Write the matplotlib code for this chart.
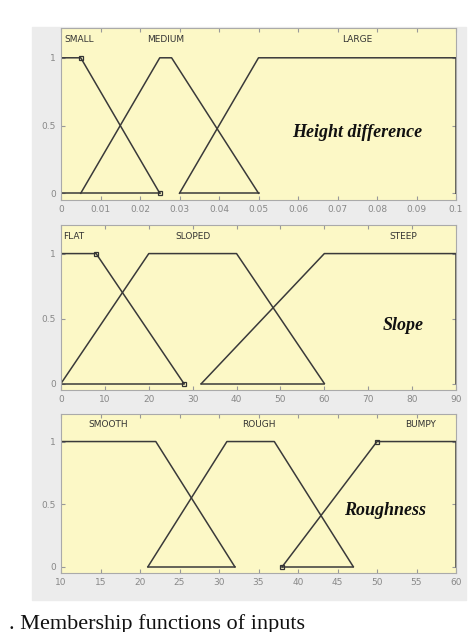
import matplotlib.pyplot as plt
import matplotlib.patches as mpatches

# membership function parameters (trapezoids a, b, c, d)
hd_names = ['SMALL', 'MEDIUM', 'LARGE']
hd_params = [[0, 0, 0.005, 0.025], [0.005, 0.025, 0.028, 0.05], [0.03, 0.05, 0.1, 0.1]]
hd_base = [[0, 0.025], [0.03, 0.05]]
hd_label_x = [0.0045, 0.0265, 0.075]
hd_marks = [[0.005, 1], [0.025, 0]]
hd_ticks = [0, 0.01, 0.02, 0.03, 0.04, 0.05, 0.06, 0.07, 0.08, 0.09, 0.1]

sl_names = ['FLAT', 'SLOPED', 'STEEP']
sl_params = [[0, 0, 8, 28], [0, 20, 40, 60], [32, 60, 90, 90]]
sl_base = [[0, 28], [32, 60]]
sl_label_x = [3, 30, 78]
sl_marks = [[8, 1], [28, 0]]
sl_ticks = [0, 10, 20, 30, 40, 50, 60, 70, 80, 90]

ro_names = ['SMOOTH', 'ROUGH', 'BUMPY']
ro_params = [[10, 10, 22, 32], [21, 31, 37, 47], [38, 50, 60, 60]]
ro_base = [[21, 32], [38, 47]]
ro_label_x = [16, 35, 55.5]
ro_marks = [[38, 0], [50, 1]]
ro_ticks = [10, 15, 20, 25, 30, 35, 40, 45, 50, 55, 60]

fig = plt.figure(figsize=(4.74, 6.32), dpi=100)
fig.patch.set_facecolor('white')
fig.add_artist(mpatches.Rectangle((32 / 474, 1 - 600 / 632), 434 / 474, 573 / 632,
                                  transform=fig.transFigure, color='#ececec', zorder=0))

panels = [
    (hd_names, hd_params, hd_base, hd_label_x, hd_marks, hd_ticks, 'Height difference', 0.075, [28, 200]),
    (sl_names, sl_params, sl_base, sl_label_x, sl_marks, sl_ticks, 'Slope', 78, [225, 390]),
    (ro_names, ro_params, ro_base, ro_label_x, ro_marks, ro_ticks, 'Roughness', 51, [414, 573]),
]

for names, params, base, lx, marks, ticks, title, tx, (top, bot) in panels:
    ax = fig.add_axes([61 / 474, 1 - bot / 632, 395 / 474, (bot - top) / 632])
    ax.set_facecolor('#fcf8c6')
    for name, (a, b, c, d), x in zip(names, params, lx):
        ax.plot([a, b, c, d], [0, 1, 1, 0], color='#3a3a3a', lw=1.1)
        ax.text(x, 1.1, name, ha='center', va='bottom', fontsize=6.5, color='#333333')
    for x0, x1 in base:
        ax.plot([x0, x1], [0, 0], color='#3a3a3a', lw=1.1)
    for mx, my in marks:
        ax.plot(mx, my, 's', ms=3.5, mfc='none', mec='#333333', mew=0.9)
    ax.text(tx, 0.45, title, ha='center', va='center', fontsize=13,
            family='Liberation Serif', style='italic', weight='bold', color='#111111')
    ax.set_xlim(ticks[0], ticks[-1])
    ax.set_ylim(-0.05, 1.22)
    ax.set_xticks(ticks)
    ax.set_xticklabels([f'{t:g}' for t in ticks])
    ax.set_yticks([0, 0.5, 1])
    ax.set_yticklabels(['0', '0.5', '1'])
    ax.tick_params(direction='in', top=True, right=True, labelsize=6.5,
                   colors='#999999', labelcolor='#888888', length=3)
    for s in ax.spines.values():
        s.set_color('#aaaaaa')

fig.text(0.02, 1 - 634 / 632, '. Membership functions of inputs', fontsize=16,
         family='Liberation Serif', color='#111111', va='bottom')

fig.savefig('out.png', dpi=100)
